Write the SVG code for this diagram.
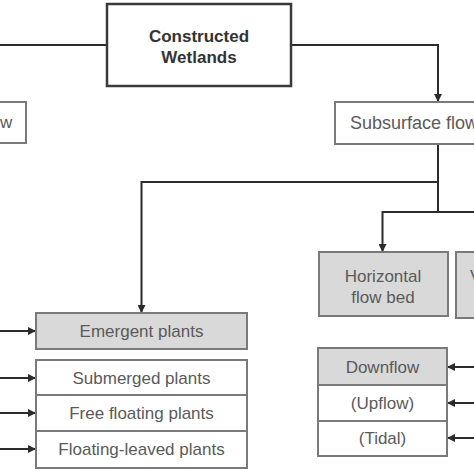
<svg xmlns="http://www.w3.org/2000/svg" width="474" height="474" viewBox="0 0 474 474">
<defs>
<style>
.ln{fill:none;stroke:#2b2b2b;stroke-width:2}
.bx{fill:#ffffff;stroke:#7a7a7a;stroke-width:2}
.gb{fill:#d9d9d9;stroke:#7a7a7a;stroke-width:2}
.tx{font-family:"Liberation Sans",Arial,sans-serif;font-size:17px;fill:#5a5a5a;text-anchor:middle}
.tb{font-family:"Liberation Sans",Arial,sans-serif;font-size:17px;font-weight:bold;fill:#333333;text-anchor:middle}
</style>
<marker id="ah" viewBox="0 0 10 10" refX="10" refY="5" markerWidth="4" markerHeight="4" orient="auto" markerUnits="strokeWidth">
<path d="M0,0 L10,5 L0,10 z" fill="#2b2b2b"/>
</marker>
</defs>
<rect width="474" height="474" fill="#ffffff"/>
<g id="connectors">
<path class="ln" d="M0,45 H107"/>
<path class="ln" d="M291,45 H438 V102" marker-end="url(#ah)"/>
<path class="ln" d="M438,144 V212"/>
<path class="ln" d="M438,182 H141.5 V313" marker-end="url(#ah)"/>
<path class="ln" d="M474,212 H382.5 V252" marker-end="url(#ah)"/>
<path class="ln" d="M0,331 H36" marker-end="url(#ah)"/>
<path class="ln" d="M0,378 H36" marker-end="url(#ah)"/>
<path class="ln" d="M0,413 H36" marker-end="url(#ah)"/>
<path class="ln" d="M0,449 H36" marker-end="url(#ah)"/>
<path class="ln" d="M474,367 H447" marker-end="url(#ah)"/>
<path class="ln" d="M474,403 H447" marker-end="url(#ah)"/>
<path class="ln" d="M474,438 H447" marker-end="url(#ah)"/>
</g>
<g id="constructed-wetlands">
<rect x="107" y="4" width="184" height="82" fill="#ffffff" stroke="#3a3a3a" stroke-width="2.5"/>
<text class="tb" x="199" y="42">Constructed</text>
<text class="tb" x="199" y="63">Wetlands</text>
</g>
<g id="surface-flow">
<rect class="bx" x="-10" y="102" width="36" height="41"/>
<text class="tx" x="0" y="128" style="text-anchor:start">w</text>
</g>
<g id="subsurface-flow">
<rect class="bx" x="335" y="102" width="150" height="42"/>
<text class="tx" x="350" y="129" style="text-anchor:start;font-size:18px">Subsurface flow</text>
</g>
<g id="horizontal-flow-bed">
<rect class="gb" x="319" y="252" width="129" height="64"/>
<text class="tx" x="383" y="282">Horizontal</text>
<text class="tx" x="383" y="303">flow bed</text>
</g>
<g id="vertical-flow-bed">
<rect class="gb" x="456" y="252" width="30" height="66"/>
<text class="tx" x="470" y="282" style="text-anchor:start">V</text>
</g>
<g id="emergent-plants">
<rect class="gb" x="36" y="313" width="211" height="36"/>
<text class="tx" x="141.5" y="337">Emergent plants</text>
</g>
<g id="submerged-plants">
<rect class="bx" x="36" y="360" width="211" height="35"/>
<text class="tx" x="141.5" y="384">Submerged plants</text>
</g>
<g id="free-floating-plants">
<rect class="bx" x="36" y="395" width="211" height="36"/>
<text class="tx" x="141.5" y="419">Free floating plants</text>
</g>
<g id="floating-leaved-plants">
<rect class="bx" x="36" y="431" width="211" height="37"/>
<text class="tx" x="141.5" y="455">Floating-leaved plants</text>
</g>
<g id="downflow">
<rect class="gb" x="318" y="348" width="129" height="37"/>
<text class="tx" x="382.5" y="373">Downflow</text>
</g>
<g id="upflow">
<rect class="bx" x="318" y="385" width="129" height="36"/>
<text class="tx" x="382.5" y="409">(Upflow)</text>
</g>
<g id="tidal">
<rect class="bx" x="318" y="421" width="129" height="35"/>
<text class="tx" x="382.5" y="444">(Tidal)</text>
</g>
</svg>
